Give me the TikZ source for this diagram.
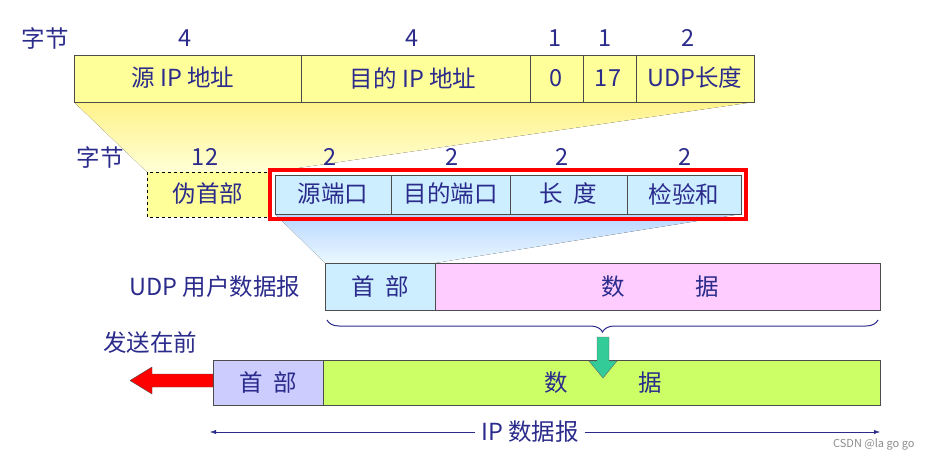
\documentclass[tikz,border=0pt]{standalone}
\usepackage{fontspec}
\setmainfont{Noto Sans CJK SC}
\usetikzlibrary{decorations.pathreplacing,arrows.meta}
\definecolor{tb}{HTML}{2B2B8C}
\definecolor{yel}{HTML}{FFFF99}
\definecolor{lb}{HTML}{CCEEFF}
\definecolor{pk}{HTML}{FFCCFF}
\definecolor{gr}{HTML}{CCFF66}
\definecolor{lv}{HTML}{CCCCFF}
\definecolor{ga}{HTML}{33CC99}
\begin{document}
\begin{tikzpicture}[x=1pt,y=-1pt,
  txt/.style={text=tb,font=\fontsize{23.5}{27}\selectfont,inner sep=0pt},
  cell/.style={draw=black!70,line width=0.6pt}]
\useasboundingbox (0,0) rectangle (930,463);
% trapezoids
\fill[top color=yel!90!orange,bottom color=yel!40] (74,102) -- (754,102) -- (270,172) -- (147,172) -- cycle;
\fill[top color=lb!90!blue,bottom color=lb!40] (275,214) -- (741,214) -- (435,263) -- (325,263) -- cycle;
% labels top
\node[txt] (zj1) at (45,38) {字节};
\node[txt] at (185,38) {4};
\node[txt] at (412,38) {4};
\node[txt] at (555,38) {1};
\node[txt] at (605,38) {1};
\node[txt] at (688,38) {2};
% top row
\draw[cell,fill=yel] (74,55) rectangle (754,102);
\foreach \x in {301,530,583,636} \draw[black!70] (\x,55) -- (\x,102);
\node[txt] (a1) at (183,78) {源 IP 地址};
\node[txt] (a2) at (413,78) {目的 IP 地址};
\node[txt] (a3) at (556.5,78) {0};
\node[txt] (a4) at (608,78) {17};
\node[txt] (a5) at (695,78) {UDP长度};
% second labels
\node[txt] (zj2) at (100,157) {字节};
\node[txt] at (205,157) {12};
\node[txt] at (330,157) {2};
\node[txt] at (452,157) {2};
\node[txt] at (562,157) {2};
\node[txt] at (685,157) {2};
% pseudo header
\draw[fill=yel,dashed,line width=0.8pt] (147,172) rectangle (270,217);
\node[txt] (ph) at (208,194) {伪首部};
\draw[cell,fill=lb] (275,175) rectangle (741,214);
\foreach \x in {391,510,627} \draw[black!70] (\x,175) -- (\x,214);
\draw[red,line width=4.5pt] (270,170) rectangle (746,219);
\node[txt] (b1) at (333,194) {源端口};
\node[txt] (b2) at (450.5,194) {目的端口};
\node[txt] (b3) at (568.5,194) {长\ \ 度};
\node[txt] (b4) at (684,194) {检验和};
% UDP datagram
\node[txt] (udp) at (215,287) {UDP 用户数据报};
\draw[cell,fill=lb] (325,263) rectangle (435,310);
\draw[cell,fill=pk] (435,263) rectangle (880,310);
\node[txt] (c1) at (380,287) {首\ \ 部};
\node[txt] (c2) at (660,287) {数\qquad\quad 据};
\draw[tb,line width=1pt,decorate,decoration={brace,mirror,amplitude=12pt}] (327,320) -- (878,320);
% bottom
\node[txt] (fs) at (150,343) {发送在前};
\draw[cell,fill=lv] (213,360) rectangle (323,405);
\draw[cell,fill=gr] (323,360) rectangle (880,405);
\node[txt] (d1) at (268,383) {首\ \ 部};
\node[txt] (d2) at (603,383) {数\qquad\quad 据};
% green arrow
\draw[black!60,fill=ga] (597,337) -- (609,337) -- (609,361) -- (617,361) -- (603,378) -- (589,361) -- (597,361) -- cycle;
% red arrow
\draw[black!70,fill=red] (213,374) -- (152,374) -- (152,367) -- (130,380.5) -- (152,394) -- (152,387) -- (213,387) -- cycle;
\coordinate (l) at (210,432);
\coordinate (r) at (880,432);
\node[txt,fill=white,inner xsep=6pt] (ip) at (530,432) {IP 数据报};
\draw[tb,-{Latex[length=6pt,width=4pt]}] (ip.west) -- (l);
\draw[tb,-{Latex[length=6pt,width=4pt]}] (ip.east) -- (r);
\node[text=black!45,font=\fontsize{11}{13}\selectfont,anchor=east] at (918,444) {CSDN @la go go};
\end{tikzpicture}
\end{document}
